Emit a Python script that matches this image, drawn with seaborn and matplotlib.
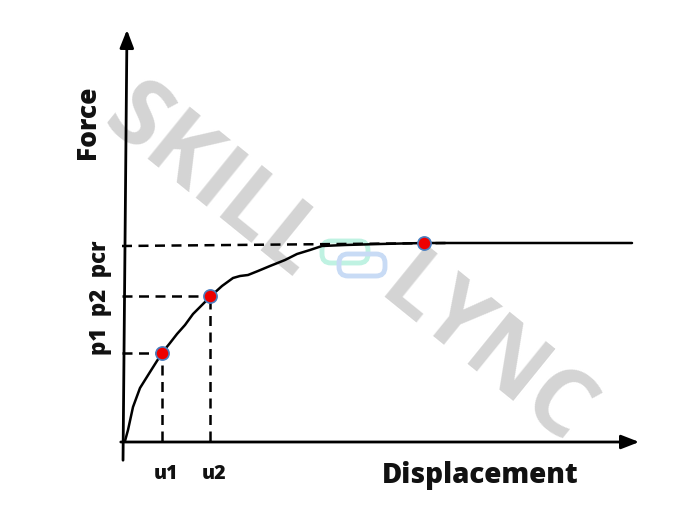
import matplotlib
matplotlib.use("Agg")
import matplotlib.pyplot as plt
import seaborn as sns
import pandas as pd
from matplotlib.patches import FancyBboxPatch

# ---- data (chart units: displacement, force) ----
curve_disp = [0, 3, 8, 15, 25, 37, 45, 52, 60, 68, 78, 86, 97, 108, 115, 123,
              133, 145, 160, 172, 185, 197, 220, 255, 299, 507]
curve_force = [0, 11, 34, 53, 69, 88, 98, 107, 116, 127, 137, 145, 155, 163, 165, 166,
               170, 175, 181, 187, 191, 195, 196, 197, 198, 198]
point_disp = [37, 85, 299]
point_force = [88, 145, 198]
u_labels = ["u1", "u2"]
p_labels = ["p1", "p2", "pcr"]
pcr_level = 195
x_label = "Displacement"
y_label = "Force"
watermark = ["SKILL", "LYNC"]

df_curve = pd.DataFrame({"disp": curve_disp, "force": curve_force})
df_pts = pd.DataFrame({"disp": point_disp, "force": point_force})

sns.set_theme(style="white")
plt.rcParams["font.family"] = ["Open Sans", "DejaVu Sans"]

fig = plt.figure(figsize=(7.0, 5.14), dpi=100)
ax = fig.add_axes([0, 0, 1, 1])

# watermark
ax.text(88, 258, watermark[0], rotation=-39, fontsize=67, color="#d4d4d4",
        fontweight="bold", ha="center", va="center", zorder=0)
ax.text(360, 87, watermark[1], rotation=-39, fontsize=67, color="#d4d4d4",
        fontweight="bold", ha="center", va="center", zorder=0)
ax.add_patch(FancyBboxPatch((202, 183), 36, 12, boxstyle="round,pad=5,rounding_size=9",
                            fill=False, ec="#bff2e2", lw=3.5, zorder=0.5))
ax.add_patch(FancyBboxPatch((219, 170), 36, 12, boxstyle="round,pad=5,rounding_size=9",
                            fill=False, ec="#c8dbf5", lw=3.5, zorder=0.5))

# axes arrows
ax.annotate("", xy=(517, -1), xytext=(-7, -1),
            arrowprops=dict(arrowstyle="-|>,head_length=0.9,head_width=0.35",
                            color="black", lw=2), zorder=3)
ax.annotate("", xy=(2, 414), xytext=(-2, -22),
            arrowprops=dict(arrowstyle="-|>,head_length=0.9,head_width=0.35",
                            color="black", lw=2), zorder=3)

dash = (4, 2.6)
# dashed guides
for u, p in zip(point_disp[:2], point_force[:2]):
    ax.plot([-3, u], [p, p], color="black", lw=1.8, dashes=dash, zorder=2)
    ax.plot([u, u], [0, p], color="black", lw=1.8, dashes=dash, zorder=2)
ax.plot([-3, 325], [pcr_level, pcr_level + 3], color="black", lw=1.8, dashes=dash, zorder=2)

# curve and points
sns.lineplot(data=df_curve, x="disp", y="force", color="black", lw=1.8,
             sort=False, estimator=None, ax=ax, zorder=3)
sns.scatterplot(data=df_pts, x="disp", y="force", color="#ee0000", edgecolor="#4a7fc0",
                linewidth=1.2, s=90, ax=ax, zorder=4)
ax.set_xlim(-125, 575)
ax.set_ylim(-73, 441)
ax.axis("off")

# labels
for u, lab in zip(point_disp[:2], u_labels):
    ax.text(u + 4, -33, lab, fontsize=14, fontweight=800, ha="center", va="center",
            color="#111111")
ax.text(-25, 143, "  ".join(p_labels), rotation=90, fontsize=16, fontweight=800,
        ha="center", va="center", color="#111111")
ax.text(355, -35, x_label, fontsize=20, fontweight=800, ha="center", va="center",
        color="#111111")
ax.text(-37, 319, y_label, rotation=90, fontsize=19, fontweight=800, ha="center",
        va="center", color="#111111")

fig.savefig("out.png", dpi=100)
